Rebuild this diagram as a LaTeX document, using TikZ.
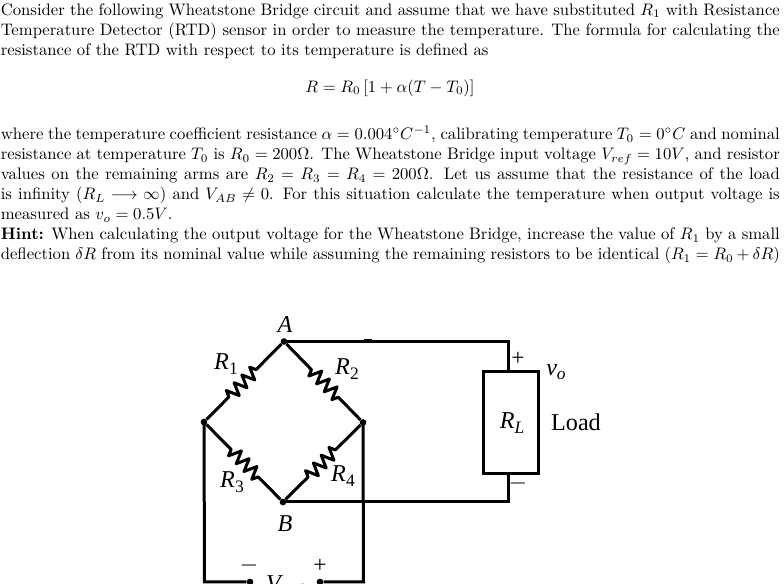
\documentclass[tikz,border=0pt]{standalone}
\usepackage[no-math]{fontspec}
\usepackage{amsmath}
\usepackage{amsfonts}
\usetikzlibrary{positioning}
\usetikzlibrary{decorations.pathmorphing}
\newfontfamily\labelfont{Liberation Serif}
\tikzset{
  wire/.style={line width=1.8pt,line join=miter},
  resistor/.style={line width=1.8pt,line join=round,decorate,
    decoration={zigzag,segment length=6.6pt,amplitude=3.8pt,pre length=19pt,post length=19pt}},
  junction/.style={circle,fill=black,inner sep=0pt,minimum size=4pt},
  lbl/.style={inner sep=0pt,font=\labelfont\fontsize{14.5}{16}\selectfont},
  sign/.style={inner sep=0pt,font=\labelfont\fontsize{14}{15}\selectfont},
  para/.style={anchor=north west,inner sep=0pt,text width=467.4pt,align=justify}
}
\begin{document}
\begin{tikzpicture}[x=0.6pt,y=-0.6pt,node distance=2pt]
  \useasboundingbox (0,0) rectangle (784,584);
  \clip (0,0) rectangle (784,584);
  % problem text
  \node (intro) [para] at (0.5,3) {Consider the following Wheatstone Bridge circuit and assume that we have substituted $R_1$ with Resistance Temperature Detector (RTD) sensor in order to measure the temperature. The formula for calculating the resistance of the RTD with respect to its temperature is defined as};
  \node (formula) at (390,88) {$R = R_0\left[1+\alpha(T-T_0)\right]$};
  \node (where) [para] at (0.5,126) {where the temperature coefficient resistance $\alpha=0.004^{\circ}C^{-1}$, calibrating temperature $T_0=0^{\circ}C$ and nominal resistance at temperature $T_0$ is $R_0=200\Omega$. The Wheatstone Bridge input voltage $V_{ref}=10V$, and resistor values on the remaining arms are $R_2=R_3=R_4=200\Omega$. Let us assume that the resistance of the load is infinity ($R_L\longrightarrow\infty$) and $V_{AB}\neq0$. For this situation calculate the temperature when output voltage is measured as $v_o=0.5V$.\\
  \textbf{Hint:} When calculating the output voltage for the Wheatstone Bridge, increase the value of $R_1$ by a small deflection $\delta R$ from its nominal value while assuming the remaining resistors to be identical $(R_1=R_0+\delta R)$};
  % bridge
  \node (A) [junction] at (284,341.5) {};
  \node (left) [junction] at (204,422) {}
    edge[resistor] (A);
  \node (right) [junction] at (363,422.5) {}
    edge[resistor] (A);
  \node (B) [junction] at (283,502) {}
    edge[resistor] (left)
    edge[resistor] (right);
  % load
  \node (load) [draw,line width=1.8pt,minimum width=33pt,minimum height=61.2pt,inner sep=0pt] at (511,422.5) {};
  \node (RL) [lbl] at (512,423) {\textit{R}\raisebox{-0.2em}{\fontsize{10.5}{12}\selectfont\textit{L}}};
  \node (loadname) [lbl,right=6.5pt of load] {Load};
  \coordinate (top) at (508.5,341.5);
  \coordinate (bot) at (508.5,502);
  \draw[wire] (A.center) -- (top) -- (top |- load.north);
  \draw[wire] (B.center) -- (bot) -- (bot |- load.south);
  \node (bump) [fill=black,inner sep=0pt,minimum width=5pt,minimum height=2.4pt] at (368,341.5) {};
  % supply
  \node (neg) [junction] at (250,582) {};
  \node (pos) [junction] at (320,582) {};
  \coordinate (lowleft) at (204.5,582);
  \coordinate (lowright) at (363.5,582);
  \draw[wire] (left.center) -- (lowleft) -- (neg);
  \draw[wire] (right.center) -- (lowright) -- (pos);
  % labels
  \node (Alabel) [lbl] at (285,325) {\textit{A}};
  \node (Blabel) [lbl] at (285,524) {\textit{B}};
  \node (R1) [lbl] at (226,364) {\textit{R}\raisebox{-0.2em}{\fontsize{10.5}{12}\selectfont 1}};
  \node (R2) [lbl] at (347,369) {\textit{R}\raisebox{-0.2em}{\fontsize{10.5}{12}\selectfont 2}};
  \node (R3) [lbl] at (232,482) {\textit{R}\raisebox{-0.2em}{\fontsize{10.5}{12}\selectfont 3}};
  \node (R4) [lbl] at (343,476) {\textit{R}\raisebox{-0.2em}{\fontsize{10.5}{12}\selectfont 4}};
  \node (minus) [sign] at (249,566) {$-$};
  \node (plus) [sign] at (320,566) {+};
  \node (vref) [lbl] at (285,588) {\textit{V}\raisebox{-0.2em}{\fontsize{10.5}{12}\selectfont\textit{ref}}};
  \node (loadplus) [sign] at (518,358.5) {+};
  \node (loadminus) [sign] at (518,484) {$-$};
  \node (vo) [lbl] at (556,372) {\textit{v}\raisebox{-0.2em}{\fontsize{10.5}{12}\selectfont\textit{o}}};
\end{tikzpicture}
\end{document}
